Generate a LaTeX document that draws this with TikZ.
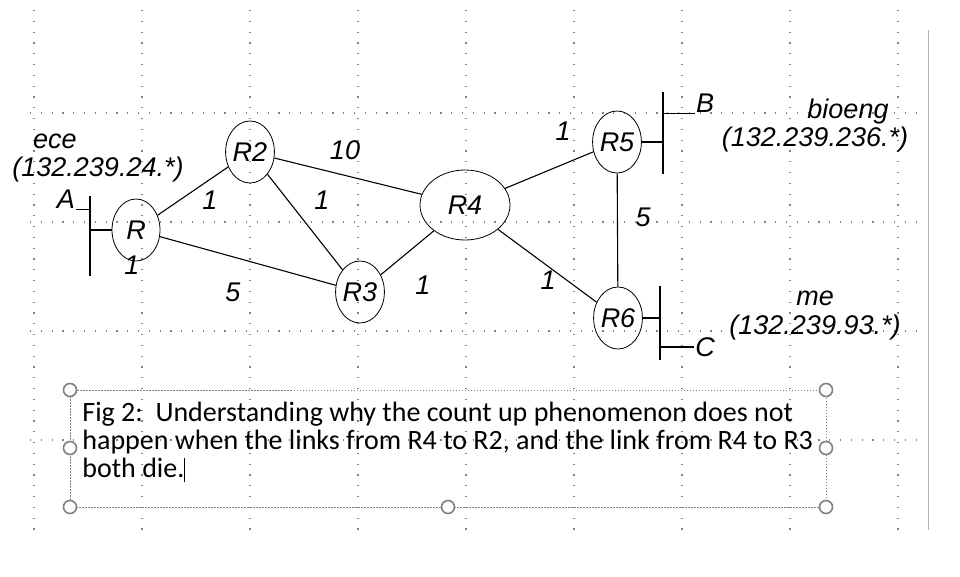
\documentclass[tikz,border=0pt]{standalone}
\usepackage{fontspec}
\setmainfont{Liberation Sans}
\newfontfamily\boxfont{Carlito}
\usetikzlibrary{shapes.geometric,positioning}
\begin{document}
\begin{tikzpicture}[x=1pt,y=-1pt,thick,
    router/.style={ellipse,draw,inner sep=0pt,minimum width=48,minimum height=62,font=\fontsize{27}{29}\selectfont\itshape},
    lbl/.style={font=\fontsize{27}{29}\selectfont\itshape,inner sep=1pt},
    link/.style={line width=1.1pt},
    grid dots/.style={gray,line width=1.2pt,dash pattern=on 1.2pt off 9.6pt},
    handle/.style={circle,draw=gray,line width=1.6pt,fill=white,minimum size=13,inner sep=0pt}]
 \useasboundingbox (0,0) rectangle (960,576);
 % background grid
 \foreach \x in {34,142,250,358,466,574,682,790,898}
   \draw[grid dots] (\x,10) -- (\x,530);
 \foreach \y in {113,222,331,440}
   \draw[grid dots] (30,\y) -- (920,\y);
 \draw[gray!60,line width=1pt] (928,30) -- (928,530);

 % routers
 \node[router] (r) at (136,230) {R};
 \node[router] (r2) at (250,152) {R2};
 \node[router] (r3) at (360,292) {R3};
 \node[router,minimum width=90,minimum height=70] (r4) at (465,205) {R4};
 \node[router] (r5) at (617,142) {R5};
 \node[router] (r6) at (618,318) {R6};

 \draw[link] (r) -- (r2);
 \draw[link] (r2) -- (r4);
 \draw[link] (r2) -- (r3);
 \draw[link] (r) -- (r3);
 \draw[link] (r3) -- (r4);
 \draw[link] (r4) -- (r5);
 \draw[link] (r4) -- (r6);
 \draw[link] (r5) -- (r6);

 % link costs
 \node[lbl] (c1) at (210,200) {1};
 \node[lbl] (c2) at (345,150) {10};
 \node[lbl] (c3) at (322,200) {1};
 \node[lbl] (c4) at (132,265) {1};
 \node[lbl] (c5) at (233,292) {5};
 \node[lbl] (c6) at (423,285) {1};
 \node[lbl] (c7) at (563,131) {1};
 \node[lbl] (c8) at (643,217) {5};
 \node[lbl] (c9) at (548,280) {1};

 % subnets
 \coordinate (abar top) at (90,196);
 \coordinate (abar bot) at (90,276);
 \draw[link] (abar top) -- (abar bot);
 \draw[link] (r.west) -- (r.west -| abar top);
 \node[lbl] (a) at (66,199) {A};
 \draw[link] (a.south east) -- (a.south east -| abar top);
 \node[lbl] (ece) at (55,141) {ece};
 \node[lbl] (ecenet) at (98,170) {(132.239.24.*)};

 \coordinate (bbar top) at (663,92);
 \coordinate (bbar bot) at (663,174);
 \draw[link] (bbar top) -- (bbar bot);
 \draw[link] (r5.east) -- (r5.east -| bbar top);
 \node[lbl] (b) at (705,103) {B};
 \draw[link] (bbar top |- b.south west) -- (b.south west);
 \node[lbl] (bio) at (848,112) {bioeng};
 \node[lbl] (bionet) at (815,140) {(132.239.236.*)};

 \coordinate (cbar top) at (660,286);
 \coordinate (cbar bot) at (660,360);
 \draw[link] (cbar top) -- (cbar bot);
 \draw[link] (r6.east) -- (r6.east -| cbar top);
 \node[lbl] (c) at (705,347) {C};
 \draw[link] (cbar top |- c.west) -- (c.west);
 \node[lbl] (me) at (815,298) {me};
 \node[lbl] (menet) at (815,328) {(132.239.93.*)};

 % caption box
 \draw[gray,line width=0.8pt,dash pattern=on 1.5pt off 1.5pt] (70,390) rectangle (826,507);
 \node[anchor=north west,align=left,font=\boxfont\fontsize{28}{28}\selectfont,inner sep=0pt] (cap) at (82,402)
   {Fig 2:\ \ Understanding why the count up phenomenon does not\\
    happen when the links from R4 to R2, and the link from R4 to R3\\
    both die.\rule[-4pt]{0.9pt}{24pt}};
 \foreach \hx/\hy in {70/390,826/390,70/448,826/448,70/507,448/507,826/507}
   \node[handle] at (\hx,\hy) {};
\end{tikzpicture}
\end{document}
